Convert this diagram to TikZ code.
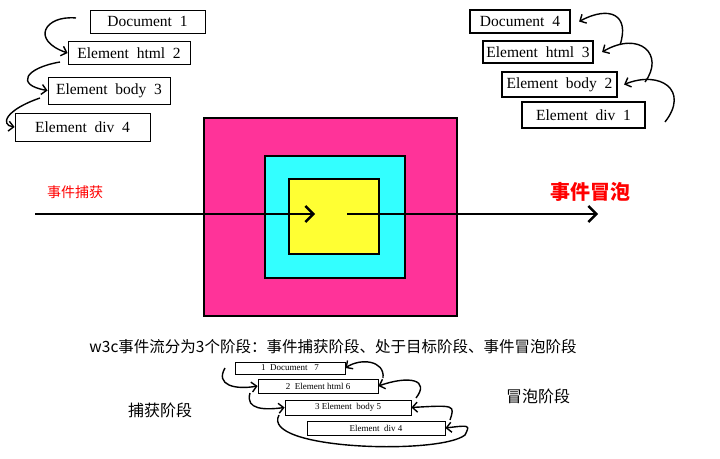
\documentclass[tikz,border=0pt]{standalone}
\usepackage{fontspec}
\setmainfont{Liberation Serif}
\newfontfamily\cjk{Noto Sans CJK SC}
\usetikzlibrary{arrows.meta}
\definecolor{pinkfill}{RGB}{255,51,153}
\definecolor{cyanfill}{RGB}{51,255,255}
\definecolor{yellowfill}{RGB}{255,255,51}
\tikzset{
  elbox/.style={draw, thick, minimum height=#1, inner sep=1pt, font=\fontsize{15.5}{16}\selectfont},
  elbox/.default=23pt,
  thickbox/.style={elbox, line width=2.2pt},
  smallbox/.style={draw, thick, minimum height=12pt, inner sep=1pt, font=\fontsize{9}{10}\selectfont},
  hand/.style={line width=1.4pt, -{Straight Barb[length=5pt]}},
}
\begin{document}
\begin{tikzpicture}[x=1pt,y=-1pt]
\useasboundingbox (0,0) rectangle (720,458);
% left list
\node[elbox, minimum width=115pt] (d1) at (147.5,21.5) {Document \ 1};
\node[elbox, minimum width=122pt] (h2) at (129,53) {Element \ html \ 2};
\node[elbox, minimum width=122pt, minimum height=27pt] (b3) at (109,90.5) {Element \ body \ 3};
\node[elbox, minimum width=135pt, minimum height=28pt] (v4) at (82.5,127) {Element \ div \ 4};
\draw[hand] (76,18) .. controls (45,15) and (30,40) .. (h2.west);
\draw[hand] (60,62) .. controls (25,68) and (15,85) .. (b3.west);
\draw[hand] (40,98) .. controls (5,110) and (0,125) .. (v4.west);
% right list
\node[thickbox, minimum width=100pt] (d4) at (520,21.5) {Document \ 4};
\node[thickbox, minimum width=110pt, minimum height=22pt] (h3) at (538,52) {Element \ html \ 3};
\node[thickbox, minimum width=115pt, minimum height=25pt] (b2) at (559.5,84.5) {Element \ body \ 2};
\node[thickbox, minimum width=123pt, minimum height=26pt] (v1) at (583.5,115) {Element \ div \ 1};
\draw[hand] (665,122) .. controls (690,90) and (660,70) .. ([xshift=6pt]b2.east);
\draw[hand] (645,82) .. controls (665,55) and (640,30) .. ([xshift=8pt]h3.east);
\draw[hand] (620,45) .. controls (630,15) and (610,5) .. ([xshift=8pt]d4.east);
% nested boxes
\draw[line width=2.2pt, fill=pinkfill] (204,118) rectangle (457,316);
\draw[line width=2.2pt, fill=cyanfill] (265,156) rectangle (405,278);
\draw[line width=2.2pt, fill=yellowfill] (289,179) rectangle (379,254);
\coordinate (cs) at (35,214);
\coordinate (ce) at (315,214);
\coordinate (bs) at (347,214);
\coordinate (be) at (598,214);
\draw[line width=2.4pt, -{Straight Barb[length=8pt]}] (cs) -- (ce);
\draw[line width=2.4pt, -{Straight Barb[length=8pt]}] (bs) -- (be);
\node[text=red, font=\cjk\fontsize{14}{16}\selectfont] (cap) at (75,192) {事件捕获};
\node[text=red, font=\cjk\bfseries\fontsize{20}{22}\selectfont] (bub) at (590,192) {事件冒泡};
% caption
\node[font=\cjk\fontsize{15.5}{17}\selectfont] (title) at (333,347) {w3c事件流分为3个阶段：事件捕获阶段、处于目标阶段、事件冒泡阶段};
% bottom list
\node[smallbox, minimum width=110pt] (s1) at (290,368) {1 \ Document \ \ 7};
\node[smallbox, minimum width=120pt, minimum height=14pt] (s2) at (318,386) {2 \ Element html 6};
\node[smallbox, minimum width=126pt, minimum height=15pt] (s3) at (348,407.5) {3 Element \ body 5};
\node[smallbox, minimum width=138pt, minimum height=14pt] (s4) at (376,428) {Element \ div 4};
\draw[hand] (225,368) .. controls (215,385) and (235,390) .. (s2.west);
\draw[hand] (250,393) .. controls (245,410) and (265,410) .. (s3.west);
\draw[hand] (279,415) .. controls (260,450) and (440,455) .. (465,435) .. controls (470,425) .. (s4.east);
\draw[hand] (450,420) .. controls (455,405) .. (s3.east);
\draw[hand] (416,398) .. controls (430,380) and (410,375) .. (s2.east);
\draw[hand] (383,378) .. controls (385,360) and (360,358) .. (s1.east);
\node[font=\cjk\fontsize{16}{18}\selectfont] (lcap) at (160,410) {捕获阶段};
\node[font=\cjk\fontsize{16}{18}\selectfont] (lbub) at (538,396) {冒泡阶段};
\end{tikzpicture}
\end{document}
